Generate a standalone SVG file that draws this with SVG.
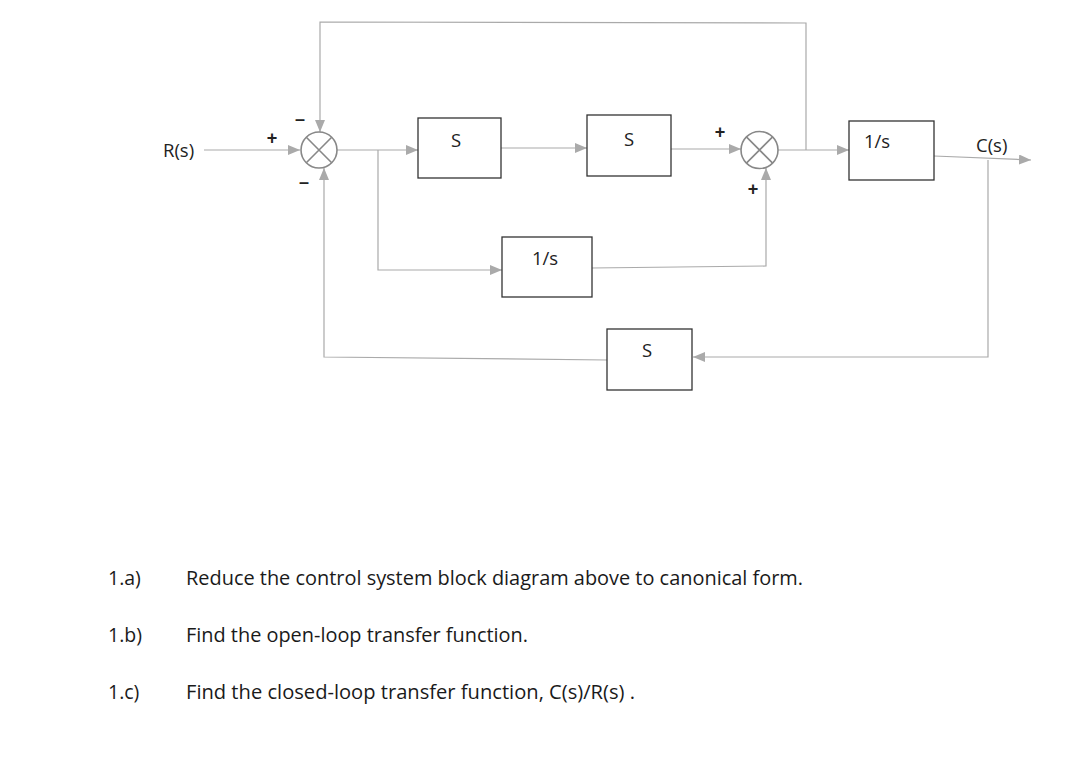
<svg xmlns="http://www.w3.org/2000/svg" width="1087" height="781" viewBox="0 0 1087 781">
<defs>
<marker id="arr" viewBox="0 0 12 10" refX="12" refY="5" markerWidth="12" markerHeight="10" markerUnits="userSpaceOnUse" orient="auto">
<path d="M0,0 L12,5 L0,10 z" fill="#aaaaaa"/>
</marker>
<style>
.blk{fill:#fff;stroke:#333;stroke-width:1.3}
.sum{fill:#fff;stroke:#888;stroke-width:1.6}
.x{stroke:#888;stroke-width:1.6}
.ln{fill:none;stroke:#aaaaaa;stroke-width:1.2}
.lbl{font-family:"Open Sans","Liberation Sans",Arial,sans-serif;font-size:18.5px;fill:#222}
.sg{font-family:"Liberation Sans",Arial,sans-serif;font-size:18px;font-weight:bold;fill:#222;text-anchor:middle}
.q{font-family:"Open Sans","Liberation Sans",Arial,sans-serif;font-size:19.5px;fill:#1a1a1a}
</style>
</defs>
<rect width="1087" height="781" fill="#fff"/>
<g id="connectors">
<path class="ln" d="M204 150 H300" marker-end="url(#arr)"/>
<path class="ln" d="M337 150 H418" marker-end="url(#arr)"/>
<path class="ln" d="M378 150 V270 H502" marker-end="url(#arr)"/>
<path class="ln" d="M501 148 H587" marker-end="url(#arr)"/>
<path class="ln" d="M671 149 H741" marker-end="url(#arr)"/>
<path class="ln" d="M592 268 L766 266 V168" marker-end="url(#arr)"/>
<path class="ln" d="M778 150 H849" marker-end="url(#arr)"/>
<path class="ln" d="M806 150 V23 L320 22 V132" marker-end="url(#arr)"/>
<path class="ln" d="M934 156 L1031 160" marker-end="url(#arr)"/>
<path class="ln" d="M988 160 V357 H693" marker-end="url(#arr)"/>
<path class="ln" d="M607 360 L324 357 V168" marker-end="url(#arr)"/>
</g>
<g id="sum1">
<circle class="sum" cx="319" cy="150" r="18"/>
<path class="x" d="M306.3 137.3 L331.7 162.7 M331.7 137.3 L306.3 162.7"/>
<text class="sg" x="272" y="144">+</text>
<text class="sg" x="300" y="125">&#8211;</text>
<text class="sg" x="304" y="188">&#8211;</text>
</g>
<g id="sum2">
<circle class="sum" cx="759.5" cy="150" r="18.5"/>
<path class="x" d="M746.4 136.9 L772.6 163.1 M772.6 136.9 L746.4 163.1"/>
<text class="sg" x="720" y="138">+</text>
<text class="sg" x="753" y="195">+</text>
</g>
<g id="input"><text class="lbl" x="163" y="157">R(s)</text></g>
<g id="output"><text class="lbl" x="976" y="152">C(s)</text></g>
<g id="block_s1">
<rect class="blk" x="418" y="118" width="83" height="60"/>
<text class="lbl" x="456" y="147" text-anchor="middle">S</text>
</g>
<g id="block_s2">
<rect class="blk" x="587" y="115" width="84" height="61"/>
<text class="lbl" x="629" y="146" text-anchor="middle">S</text>
</g>
<g id="block_int1">
<rect class="blk" x="502" y="237" width="90" height="60"/>
<text class="lbl" x="545" y="265" text-anchor="middle">1/s</text>
</g>
<g id="block_int2">
<rect class="blk" x="849" y="121" width="85" height="59"/>
<text class="lbl" x="864" y="148">1/s</text>
</g>
<g id="block_s3">
<rect class="blk" x="607" y="329" width="85" height="61"/>
<text class="lbl" x="647" y="357" text-anchor="middle">S</text>
</g>
<g id="questions">
<text class="q" x="108" y="585">1.a)</text>
<text class="q" x="186" y="585" textLength="617" lengthAdjust="spacingAndGlyphs">Reduce the control system block diagram above to canonical form.</text>
<text class="q" x="108" y="642">1.b)</text>
<text class="q" x="186" y="642" textLength="342" lengthAdjust="spacingAndGlyphs">Find the open-loop transfer function.</text>
<text class="q" x="108" y="699">1.c)</text>
<text class="q" x="186" y="699" textLength="449" lengthAdjust="spacingAndGlyphs">Find the closed-loop transfer function, C(s)/R(s) .</text>
</g>
</svg>
